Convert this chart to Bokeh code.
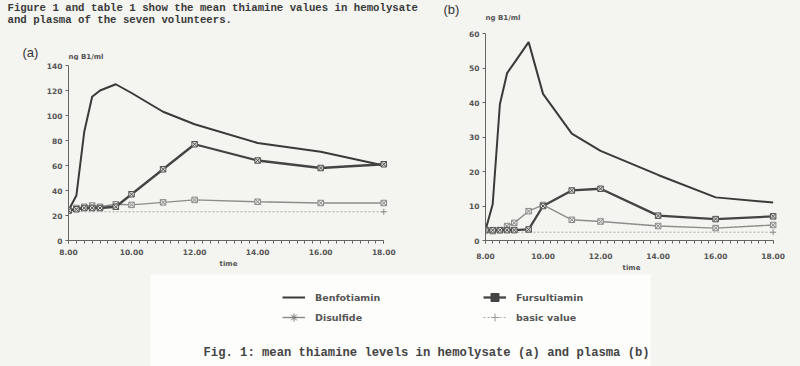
from bokeh.plotting import figure
from bokeh.models import (Range1d, FixedTicker, NumeralTickFormatter, Label,
                          Legend, LegendItem)
from bokeh.layouts import row, column
from bokeh.embed import file_html
from bokeh.resources import INLINE

# ---------------- data ----------------
times = [8.0, 8.25, 8.5, 8.75, 9.0, 9.5, 10.0, 11.0, 12.0, 14.0, 16.0, 18.0]

# (a) hemolysate, ng B1/ml
benfo_a = [24, 36, 87, 115, 120, 125, 118, 103, 93, 78, 71, 60]
furs_a = [24, 25, 26, 26, 26, 27, 37, 57, 77, 64, 58, 61]
disulf_a = [24, 26, 27, 28, 27, 29, 28.5, 30.5, 32.5, 31, 30, 30]
basic_t = [8.0, 18.0]
basic_a = [23, 23]

# (b) plasma, ng B1/ml
benfo_b = [3, 10.5, 39.5, 48.5, 51.5, 57.5, 42.5, 31, 26, 19, 12.5, 11]
furs_b = [3, 3, 3, 3, 3, 3.2, 10, 14.5, 15, 7.2, 6.2, 7]
disulf_b = [3, 2.7, 3.0, 4.2, 5.1, 8.5, 10.3, 6, 5.5, 4.2, 3.6, 4.5]
basic_b = [2.4, 2.4]

x_major = [8, 10, 12, 14, 16, 18]
x_minor = [8 + 0.25 * i for i in range(41)]

header1 = "Figure 1 and table 1 show the mean thiamine values in hemolysate"
header2 = "and plasma of the seven volunteers."
caption = "Fig. 1: mean thiamine levels in hemolysate (a) and plasma (b)"
unit_label = "ng B1/ml"
series_names = ["Benfotiamin", "Fursultiamin", "Disulfide", "basic value"]

BG = "#f4f4f0"
BOX = "#fdfdfc"
AX = "#666666"
TXT = "#555555"

C_BEN = "#3a3a3a"
C_FUR = "#444444"
C_DIS = "#8c8c8c"
C_BAS = "#a8a8a8"
NAN = float("nan")


def draw_series(p, benfo, furs, disulf, basic):
    p.line(times, benfo, line_color=C_BEN, line_width=2)
    p.line(basic_t, basic, line_color=C_BAS, line_width=1, line_dash="2 2")
    p.scatter(basic_t, basic, marker="cross", size=6, line_color="#888888")
    p.line(times, disulf, line_color=C_DIS, line_width=1.4)
    p.scatter(times, disulf, marker="square_x", size=5.5, line_color="#8a8a8a",
              fill_color="#e6e6e2", line_width=1)
    p.line(times, furs, line_color=C_FUR, line_width=2.3)
    p.scatter(times, furs, marker="square_x", size=5.5, line_color="#555555",
              fill_color="#d8d8d4", line_width=1)


def style_chart(p, ymax, ystep, xstandoff):
    p.grid.visible = False
    xa = p.xaxis[0]
    ya = p.yaxis[0]
    xa.ticker = FixedTicker(ticks=x_major, minor_ticks=x_minor)
    xa.formatter = NumeralTickFormatter(format="0.00")
    xa.bounds = (8, 18)
    ya.ticker = FixedTicker(ticks=list(range(0, ymax + 1, ystep)))
    ya.bounds = (0, ymax)
    for ax in (xa, ya):
        ax.axis_line_color = AX
        ax.axis_line_width = 1
        ax.major_tick_line_color = AX
        ax.minor_tick_line_color = AX
        ax.major_tick_in = 0
        ax.major_tick_out = 3
        ax.minor_tick_in = 0
        ax.minor_tick_out = 3
        ax.major_label_text_font = "DejaVu Sans"
        ax.major_label_text_font_style = "bold"
        ax.major_label_text_font_size = "7.5px"
        ax.major_label_text_color = TXT
    ya.minor_tick_line_color = None
    ya.major_label_standoff = 3
    xa.major_label_standoff = xstandoff
    xa.axis_label = "time"
    xa.axis_label_text_font = "DejaVu Sans"
    xa.axis_label_text_font_style = "bold"
    xa.axis_label_text_font_size = "7px"
    xa.axis_label_text_color = TXT
    xa.axis_label_standoff = 2


def text_fig(width, height):
    f = figure(width=width, height=height, x_range=Range1d(0, width),
               y_range=Range1d(height, 0), min_border_left=0, min_border_right=0,
               min_border_top=0, min_border_bottom=0, x_axis_location=None,
               y_axis_location=None, output_backend="svg", toolbar_location=None,
               background_fill_color=BG, border_fill_color=BG, outline_line_color=None)
    f.grid.visible = False
    return f


def add_text(p, x, y, text, font, size, color, style="bold"):
    p.add_layout(Label(x=x, y=y, text=text, text_font=font, text_font_size=size,
                       text_font_style=style, text_color=color,
                       text_baseline="middle", text_align="left"))


common = dict(output_backend="svg", toolbar_location=None, background_fill_color=BG,
              border_fill_color=BG, outline_line_color=None)

# ---------------- chart (a) ----------------
ha = text_fig(440, 60)
add_text(ha, 7, 7, header1, "Liberation Mono", "10.7px", "#3a3a3a")
add_text(ha, 7, 19.5, header2, "Liberation Mono", "10.7px", "#3a3a3a")
add_text(ha, 22, 52, "(a)", "Liberation Sans", "13px", "#333333", "normal")
add_text(ha, 68, 56, unit_label, "DejaVu Sans", "7px", TXT)

pa = figure(width=440, height=214, x_range=Range1d(8, 18.15), y_range=Range1d(0, 140),
            min_border_left=68, min_border_right=52, min_border_top=5,
            min_border_bottom=34, **common)
draw_series(pa, benfo_a, furs_a, disulf_a, basic_a)
style_chart(pa, 140, 20, 5)

# ---------------- chart (b) ----------------
hb = text_fig(360, 27)
add_text(hb, 3, 9, "(b)", "Liberation Sans", "13px", "#333333", "normal")
add_text(hb, 45, 17, unit_label, "DejaVu Sans", "7px", TXT)

pb = figure(width=360, height=247, x_range=Range1d(8, 18.15), y_range=Range1d(0, 60),
            min_border_left=45, min_border_right=23, min_border_top=6,
            min_border_bottom=34, **common)
draw_series(pb, benfo_b, furs_b, disulf_b, basic_b)
style_chart(pb, 60, 10, 9)

# ---------------- legend + caption ----------------
pl = figure(width=800, height=92, x_range=Range1d(0, 500), y_range=Range1d(0, 92),
            min_border_left=150, min_border_right=150, min_border_top=0,
            min_border_bottom=0, x_axis_location=None, y_axis_location=None,
            output_backend="svg", toolbar_location=None, background_fill_color=BOX,
            border_fill_color=BG, outline_line_color=None)
pl.grid.visible = False
lb = pl.line([NAN], [NAN], line_color=C_BEN, line_width=2)
lf = pl.line([NAN], [NAN], line_color=C_FUR, line_width=2.3)
lfs = pl.scatter([NAN], [NAN], marker="square", size=4, line_color="#444444",
                 fill_color="#444444")
ld = pl.line([NAN], [NAN], line_color=C_DIS, line_width=1.4)
lds = pl.scatter([NAN], [NAN], marker="asterisk", size=5, line_color="#777777")
lbv = pl.line([NAN], [NAN], line_color=C_BAS, line_width=1, line_dash="2 2")
lbvs = pl.scatter([NAN], [NAN], marker="cross", size=5, line_color="#999999")
legend = Legend(items=[
    LegendItem(label=series_names[0], renderers=[lb]),
    LegendItem(label=series_names[1], renderers=[lf, lfs]),
    LegendItem(label=series_names[2], renderers=[ld, lds]),
    LegendItem(label=series_names[3], renderers=[lbv, lbvs]),
], location=(132, 39), orientation="horizontal", ncols=2, glyph_width=23,
    glyph_height=20, label_standoff=10, label_width=168, label_height=20, spacing=0,
    padding=0, margin=0, border_line_color=None, background_fill_alpha=0,
    label_text_font="DejaVu Sans", label_text_font_style="bold",
    label_text_font_size="9.5px", label_text_color=TXT)
pl.add_layout(legend)
pl.add_layout(Label(x=53, y=14, text=caption, text_font="Liberation Mono",
                    text_font_size="12.2px", text_font_style="bold", text_color="#444444",
                    text_baseline="middle", text_align="left"))

# wrapping the text strips in their own rows keeps their frames independent
left = column(row(ha), row(pa))
right = column(row(hb), row(pb))
layout = column(row(left, right), pl, styles={"background-color": BG})

open("out.html", "w").write(file_html(layout, INLINE))
